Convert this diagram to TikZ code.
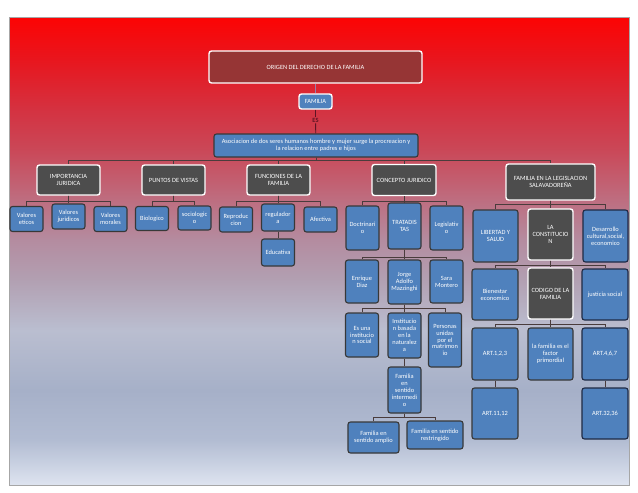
\documentclass[tikz,border=0pt]{standalone}
\usepackage{fontspec}
\newfontfamily\boxfont{Carlito}
\usetikzlibrary{positioning}

\definecolor{cblue}{HTML}{4F81BD}
\definecolor{cgray}{HTML}{4D4D4D}
\definecolor{cred}{HTML}{963535}
\definecolor{cedge}{HTML}{383838}
\definecolor{cnavy}{HTML}{1F2A44}
\definecolor{cline}{HTML}{4A3C3C}
\definecolor{cplum}{HTML}{9A7FA8}
\definecolor{cmaroon}{HTML}{5E1424}
% background gradient stops
\definecolor{bga}{RGB}{252,4,4}
\definecolor{bgb}{RGB}{232,22,30}
\definecolor{bgc}{RGB}{212,50,65}
\definecolor{bgd}{RGB}{202,72,88}
\definecolor{bge}{RGB}{192,102,120}
\definecolor{bgf}{RGB}{180,140,160}
\definecolor{bgg}{RGB}{178,160,178}
\definecolor{bgh}{RGB}{186,190,208}
\definecolor{bgi}{RGB}{166,176,200}
\definecolor{bgj}{RGB}{178,188,210}
\definecolor{bgk}{RGB}{222,228,240}
\newcommand{\narw}{33}
\newcommand{\widw}{45}

\begin{document}
\begin{tikzpicture}[x=1pt, y=-1pt,
    box/.style={rounded corners=2.5pt, line width=1.1pt, align=center, inner sep=0.5pt,
        text=white, font=\boxfont\fontsize{6.4}{6.9}\selectfont},
    bluebox/.style={box, fill=cblue, draw=cedge},
    navybox/.style={box, fill=cblue, draw=cnavy},
    graybox/.style={box, fill=cgray, draw=white, line width=1.4pt},
    sz/.style 2 args={minimum width=#1 pt, minimum height=#2 pt},
    link/.style={draw=cline, line width=0.9pt},
]

% Canvas and background gradient
\useasboundingbox (0,0) rectangle (638,493);
\foreach \ya/\yb/\ca/\cb in {17/60/bga/bgb, 60/110/bgb/bgc, 110/150/bgc/bgd,
    150/190/bgd/bge, 190/240/bge/bgf, 240/280/bgf/bgg, 280/330/bgg/bgh,
    330/390/bgh/bgi, 390/440/bgi/bgj, 440/485/bgj/bgk} {
    \shade[top color=\ca, bottom color=\cb] (9,\ya) rectangle (629,\yb+0.5);
}
\draw[black!35, line width=0.6pt] (9,17) rectangle (629,485);

% --- Top of the map ---
\node[box, fill=cred, draw=white, line width=1.4pt, sz={213}{32}] (origen) at (315.5,67) {ORIGEN DEL DERECHO DE LA FAMILIA};
\node[box, fill=cblue, draw=white, line width=1.4pt, sz={33}{15}] (familia) at (315.5,101.5) {FAMILIA};
\node[font=\boxfont\fontsize{6.4}{6.9}\selectfont\bfseries, text=cmaroon, inner sep=1pt] (es) at (315.5,120) {ES};
\node[bluebox, sz={204}{23}] (asoc) at (316,145.5) {Asociacion de  dos seres  humanos hombre y mujer surge la procreacion y\\la relacion entre padres e hijos};

% --- First level ---
\node[graybox, sz={63}{30}] (imp) at (68.5,180) {IMPORTANCIA\\JURIDICA};
\node[graybox, sz={63}{30}] (pun) at (173.5,180) {PUNTOS DE VISTAS};
\node[graybox, sz={63}{30}] (fun) at (278.5,180) {FUNCIONES DE LA\\FAMILIA};
\node[graybox, sz={64}{31}] (con) at (404,180) {CONCEPTO JURIDICO};
\node[graybox, sz={89}{36}] (leg) at (550.5,182) {FAMILIA EN LA LEGISLACION\\SALAVADOREÑA};

% --- Importancia, puntos de vista, funciones ---
\node[bluebox, sz={\narw}{25}] (ve) at (26.5,219) {Valores\\eticos};
\node[bluebox, sz={\narw}{25}] (vj) at (68.5,216.5) {Valores\\juridicos};
\node[bluebox, sz={\narw}{25}] (vm) at (110.5,219) {Valores\\morales};
\node[bluebox, sz={\narw}{24}] (bio) at (152,218.5) {Biologico};
\node[bluebox, sz={\narw}{24}] (soc) at (194.5,218) {sociologic\\o};
\node[bluebox, sz={\narw}{25}] (rep) at (236,219.5) {Reproduc\\cion};
\node[bluebox, sz={\narw}{27}] (reg) at (278,217.5) {regulador\\a};
\node[bluebox, sz={\narw}{25}] (afe) at (320.5,219.5) {Afectiva};
\node[bluebox, sz={\narw}{27}] (edu) at (278,252.5) {Educativa};

% --- Concepto juridico ---
\node[bluebox, sz={\narw}{44}] (doc) at (362.5,228) {Doctrinari\\o};
\node[bluebox, sz={\narw}{46}] (tra) at (404.5,226) {TRATADIS\\TAS};
\node[bluebox, sz={\narw}{44}] (lgs) at (446.5,228) {Legislativ\\o};
\node[bluebox, sz={\narw}{43}] (enr) at (362,281.5) {Enrique\\Diaz};
\node[bluebox, sz={\narw}{44}] (jor) at (404.5,282) {Jorge\\Adolfo\\Mazzinghi};
\node[bluebox, sz={\narw}{43}] (sar) at (446.5,281.5) {Sara\\Montero};
\node[bluebox, sz={\narw}{44}] (esu) at (362,335) {Es una\\institucio\\n social};
\node[bluebox, sz={\narw}{45}] (ins) at (404.5,335.5) {Institucio\\n basada\\en la\\naturalez\\a};
\node[bluebox, sz={\narw}{54}] (per) at (445,340) {Personas\\unidas\\por el\\matrimon\\io};
\node[bluebox, sz={\narw}{46}] (fin) at (404.5,390) {Familia\\en\\sentido\\intermedi\\o};
\node[bluebox, sz={51}{31}] (fam) at (373.5,437.5) {Familia en\\sentido amplio};
\node[bluebox, sz={56}{28}] (fre) at (435,435) {Familia en sentido\\restringido};

% --- Legislacion salvadorena ---
\node[bluebox, sz={\widw}{52}] (lib) at (495.5,236) {LIBERTAD Y\\SALUD};
\node[graybox, sz={\widw}{51}] (cons) at (550.5,234.5) {LA\\CONSTITUCIO\\N};
\node[navybox, sz={\widw}{52}] (des) at (605.5,236) {Desarrollo\\cultural,social,\\economico};
\node[bluebox, sz={46}{51}] (bie) at (495,294.5) {Bienestar\\economico};
\node[graybox, sz={\widw}{51}] (cod) at (550.5,293.5) {CODIGO DE LA\\FAMILIA};
\node[navybox, sz={46}{51}] (jus) at (605,294.5) {justicia social};
\node[bluebox, sz={46}{52}] (art1) at (495,354) {ART.1,2,3};
\node[bluebox, sz={\widw}{52}] (prim) at (550.5,354) {la familia es el\\factor\\primordial};
\node[navybox, sz={46}{52}] (art4) at (605,354) {ART.4,6,7};
\node[bluebox, sz={46}{51}] (art11) at (495,413.5) {ART.11,12};
\node[navybox, sz={46}{51}] (art32) at (605,413.5) {ART.32,36};

% --- Connectors ---
\draw[draw=cplum, line width=0.9pt] (origen) -- (familia);
\draw[draw=cmaroon, line width=0.9pt] (familia) -- (es);
\draw[draw=cmaroon, line width=0.9pt] (es) -- (asoc);
\foreach \c in {imp,pun,fun,con,leg}
    \draw[link] (asoc.south) -- ++(0,3) -| (\c.north);
\foreach \c in {ve,vj,vm}
    \draw[link] (imp.south) -- ++(0,6) -| (\c.north);
\foreach \c in {bio,soc}
    \draw[link] (pun.south) -- ++(0,6) -| (\c.north);
\foreach \c in {rep,reg,afe}
    \draw[link] (fun.south) -- ++(0,6) -| (\c.north);
\draw[link] (reg) -- (edu);
\foreach \c in {doc,tra,lgs}
    \draw[link] (con.south) -- ++(0,5.5) -| (\c.north);
\foreach \c in {enr,jor,sar}
    \draw[link] (tra.south) -- ++(0,8) -| (\c.north);
\foreach \c in {esu,ins,per}
    \draw[link] (jor.south) -- ++(0,4) -| (\c.north);
\draw[link] (ins) -- (fin);
\foreach \c in {fam,fre}
    \draw[link] (fin.south) -- ++(0,4) -| (\c.north);
\foreach \c in {lib,cons,des}
    \draw[link] (leg.south) -- ++(0,4) -| (\c.north);
\foreach \c in {bie,cod,jus}
    \draw[link] (cons.south) -- ++(0,5) -| (\c.north);
\foreach \c in {art1,prim,art4}
    \draw[link] (cod.south) -- ++(0,5) -| (\c.north);
\draw[link] (art1) -- (art11);
\draw[link] (art4) -- (art32);

\end{tikzpicture}
\end{document}
